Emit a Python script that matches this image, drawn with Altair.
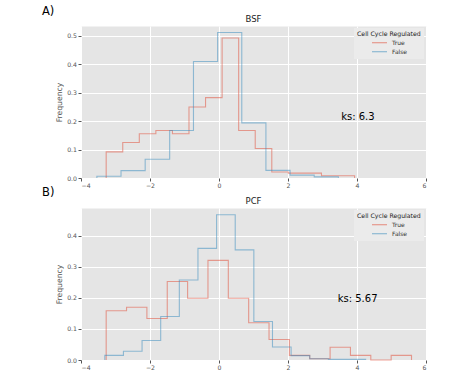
import altair as alt
import pandas as pd

# ---- data ----
bsf_true_edges = [-3.27, -2.79, -2.31, -1.83, -1.35, -0.87, -0.39, 0.09, 0.57, 1.05, 1.53, 2.01, 2.49, 2.97, 3.45, 3.93]
bsf_true_freq = [0.092, 0.125, 0.156, 0.167, 0.156, 0.250, 0.283, 0.493, 0.167, 0.104, 0.021, 0.017, 0.017, 0.008, 0.008]
bsf_false_edges = [-3.54, -2.84, -2.14, -1.43, -0.74, -0.04, 0.66, 1.36, 2.06, 2.76, 3.46]
bsf_false_freq = [0.006, 0.026, 0.066, 0.167, 0.410, 0.512, 0.194, 0.027, 0.010, 0.004]

pcf_true_edges = [-3.27, -2.68, -2.09, -1.50, -0.91, -0.32, 0.27, 0.86, 1.45, 2.04, 2.63, 3.22, 3.81, 4.40, 4.99, 5.58]
pcf_true_freq = [0.159, 0.170, 0.134, 0.253, 0.199, 0.321, 0.199, 0.120, 0.066, 0.015, 0.004, 0.041, 0.015, 0.0, 0.015]
pcf_false_edges = [-3.31, -2.77, -2.23, -1.69, -1.15, -0.61, -0.07, 0.47, 1.01, 1.55, 2.09, 2.63, 3.17, 3.71, 4.25]
pcf_false_freq = [0.015, 0.028, 0.063, 0.140, 0.258, 0.360, 0.468, 0.355, 0.124, 0.042, 0.014, 0.004, 0.002, 0.002]

series_names = ["True", "False"]
series_colors = ["#E24A33", "#348ABD"]
x_ticks = [-4, -2, 0, 2, 4, 6]
bsf_y_ticks = [0.0, 0.1, 0.2, 0.3, 0.4, 0.5]
pcf_y_ticks = [0.0, 0.1, 0.2, 0.3, 0.4]
bsf_ks = {"x": 3.54, "y": 0.204, "label": "ks: 6.3"}
pcf_ks = {"x": 3.44, "y": 0.186, "label": "ks: 5.67"}

FONT = "DejaVu Sans"
PLOT_W = 345


def step_table(edges, freqs, name):
    rows = [{"x": edges[0], "y": 0.0, "series": name, "i": 0}]
    for k, h in enumerate(freqs):
        rows.append({"x": edges[k], "y": h, "series": name, "i": k + 1})
    rows.append({"x": edges[-1], "y": 0.0, "series": name, "i": len(freqs) + 1})
    return rows


def panel(title, letter, t_edges, t_freq, f_edges, f_freq, ymax, yticks, ks, h, letter_y):
    xenc = alt.X("x:Q", scale=alt.Scale(domain=[-4, 6], nice=False, zero=False),
                 axis=alt.Axis(values=x_ticks, format="d", title=None, labelOverlap=False))
    yenc = alt.Y("y:Q", scale=alt.Scale(domain=[0, ymax], nice=False),
                 axis=alt.Axis(values=yticks, format=".1f", title="Frequency", labelOverlap=False))
    df = pd.DataFrame(step_table(t_edges, t_freq, "True") + step_table(f_edges, f_freq, "False"))
    lines = alt.Chart(df).mark_line(interpolate="step-after", strokeWidth=1.1, opacity=0.5).encode(
        x=xenc, y=yenc,
        color=alt.Color("series:N", sort=series_names,
                        scale=alt.Scale(domain=series_names, range=series_colors),
                        legend=alt.Legend(title="Cell Cycle Regulated", orient="top-right")),
        order="i:Q",
    )
    ksdf = pd.DataFrame([ks])
    kstext = alt.Chart(ksdf).mark_text(align="left", baseline="alphabetic", fontSize=10,
                                       font=FONT, color="#000000").encode(
        x=xenc, y=yenc, text="label:N")
    ldf = pd.DataFrame({"t": [letter]})
    lettertext = alt.Chart(ldf).mark_text(align="left", baseline="alphabetic", fontSize=11.5,
                                          font=FONT, color="#000000").encode(
        x=alt.value(-39), y=alt.value(letter_y), text="t:N")
    tdf = pd.DataFrame({"t": [title]})
    titletext = alt.Chart(tdf).mark_text(align="center", baseline="alphabetic", fontSize=8.5,
                                         font=FONT, color="#222222").encode(
        x=alt.value(PLOT_W / 2), y=alt.value(-4), text="t:N")
    return alt.layer(lines, kstext, lettertext, titletext).properties(
        width=PLOT_W, height=h,
    ).resolve_scale(color="independent")


top = panel("BSF", "A)", bsf_true_edges, bsf_true_freq, bsf_false_edges, bsf_false_freq,
            0.535, bsf_y_ticks, bsf_ks, 152, -11)
bottom = panel("PCF", "B)", pcf_true_edges, pcf_true_freq, pcf_false_edges, pcf_false_freq,
               0.49, pcf_y_ticks, pcf_ks, 152, -12.5)

chart = alt.vconcat(top, bottom, spacing=-4).resolve_scale(color="independent").resolve_legend(
    color="independent"
).properties(
    padding={"left": 41, "top": 5, "right": 0, "bottom": 0},
    background="#FFFFFF",
).configure_view(
    fill="#E5E5E5", stroke="transparent"
).configure_axis(
    grid=True, gridColor="#FFFFFF", gridWidth=1, domain=False,
    tickColor="#555555", tickSize=3, labelColor="#555555", labelFontSize=6.2,
    labelFont=FONT, labelPadding=1.5, titleFont=FONT, titleFontSize=7.7,
    titleFontWeight="normal", titleColor="#555555", titlePadding=3,
).configure_legend(
    fillColor="#EBEBEB", padding=3, offset=2, titleFont=FONT, titleFontSize=6.2,
    titleFontWeight="normal", titleColor="#222222", titlePadding=2,
    labelFont=FONT, labelFontSize=6, labelColor="#333333",
    symbolType="stroke", symbolSize=225, symbolStrokeWidth=1.2, symbolOpacity=0.5,
    symbolOffset=14, rowPadding=2, clipHeight=7,
)

chart.save("out.html", embed_options={"renderer": "svg", "actions": False})
